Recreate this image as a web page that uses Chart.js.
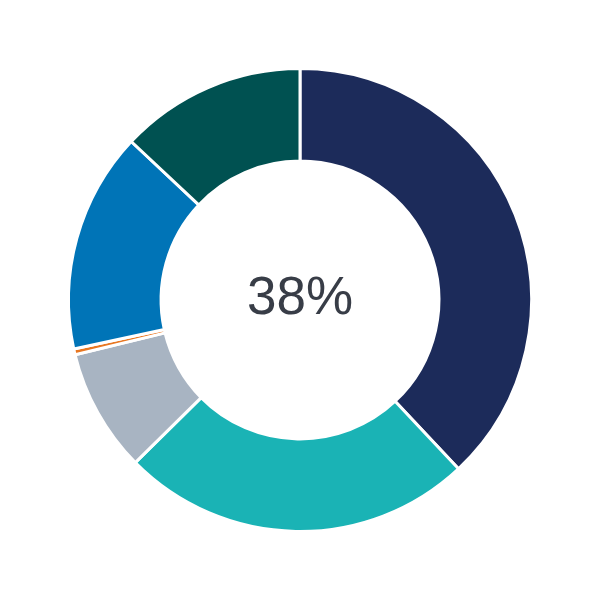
<!DOCTYPE html>
<html>
<head>
<meta charset="utf-8">
<script src="https://cdn.jsdelivr.net/npm/chart.js@4"></script>
<style>
html,body{margin:0;padding:0;background:#fff;}
#wrap{width:600px;height:600px;}
</style>
</head>
<body>
<div id="wrap"><canvas id="c" width="600" height="600"></canvas></div>
<script>
const categories = ["Navy", "Teal", "Gray", "Orange", "Blue", "Green"];
const values = [38, 24.6, 8.6, 0.4, 15.4, 13];
const colors = ["#1c2b5a", "#1ab3b5", "#a8b4c2", "#e87722", "#0074b7", "#005151"];
const centerLabel = "38%";

const centerText = {
  id: "centerText",
  afterDraw(chart) {
    const ctx = chart.ctx;
    const meta = chart.getDatasetMeta(0).data[0];
    ctx.save();
    ctx.font = "53px 'Liberation Sans', Arial, sans-serif";
    ctx.fillStyle = "#383d47";
    ctx.textAlign = "center";
    ctx.textBaseline = "alphabetic";
    ctx.fillText(centerLabel, meta.x, meta.y + 14);
    ctx.restore();
  }
};

new Chart(document.getElementById("c"), {
  type: "doughnut",
  data: {
    labels: categories,
    datasets: [{
      data: values,
      backgroundColor: colors,
      borderColor: "#ffffff",
      borderWidth: 3
    }]
  },
  options: {
    responsive: false,
    animation: false,
    cutout: "60%",
    layout: { padding: 67 },
    plugins: { legend: { display: false }, tooltip: { enabled: false } }
  },
  plugins: [centerText]
});
</script>
</body>
</html>
